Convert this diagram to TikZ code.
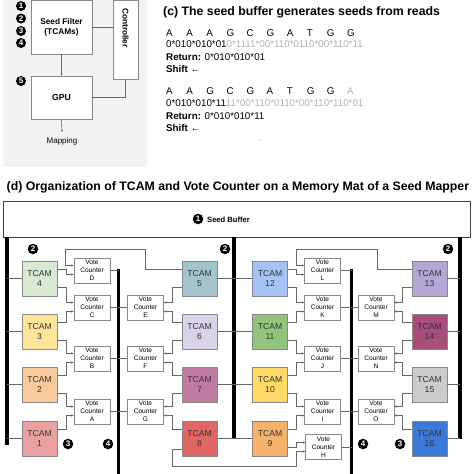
\documentclass[tikz,border=0pt]{standalone}
\usepackage{fontspec}
\setmainfont{Liberation Sans}
\usetikzlibrary{arrows.meta}
\definecolor{tc1}{HTML}{E9A0A0}
\definecolor{tc2}{HTML}{F8C99A}
\definecolor{tc3}{HTML}{FEE59A}
\definecolor{tc4}{HTML}{D9EAD3}
\definecolor{tc5}{HTML}{A3C4C9}
\definecolor{tc6}{HTML}{D9D2E9}
\definecolor{tc7}{HTML}{C27BA0}
\definecolor{tc8}{HTML}{E06666}
\definecolor{tc9}{HTML}{F6B26B}
\definecolor{tc10}{HTML}{FFD966}
\definecolor{tc11}{HTML}{93C47D}
\definecolor{tc12}{HTML}{A4C2F4}
\definecolor{tc13}{HTML}{B4A7D6}
\definecolor{tc14}{HTML}{A64D79}
\definecolor{tc15}{HTML}{CCCCCC}
\definecolor{tc16}{HTML}{3C78D8}
\definecolor{boxgray}{HTML}{888888}
\definecolor{wiregray}{HTML}{666666}
\definecolor{panelbg}{HTML}{F2F2F2}
\definecolor{lighttext}{HTML}{B0B0B0}
\newcommand{\sq}[1]{\makebox[20.1pt][l]{#1}}
\begin{document}
\begin{tikzpicture}[x=1pt,y=-1pt,
  tcam/.style={draw=boxgray, line width=0.6pt, minimum width=35pt, minimum height=35pt, inner sep=0pt, align=center, font=\fontsize{8.6}{10.2}\selectfont, text=black!80},
  vc/.style={draw=boxgray, line width=0.6pt, fill=white, minimum width=36pt, minimum height=25pt, inner sep=0pt, align=center, font=\fontsize{6.6}{7.9}\selectfont},
  wire/.style={draw=wiregray, line width=0.6pt},
  arr/.style={wire, -{Stealth[length=2.5pt,width=2.5pt]}},
  bar/.style={line width=3.5pt, draw=black},
  marker/.style={circle, fill=black, text=white, inner sep=0pt, minimum size=10.5pt, font=\bfseries\fontsize{8}{8}\selectfont},
  pbox/.style={draw=boxgray, line width=0.7pt, fill=white, inner sep=0pt, align=center, font=\bfseries\fontsize{8.3}{10}\selectfont},
  txt/.style={anchor=west, inner sep=0pt, font=\fontsize{9.8}{11}\selectfont},
  title/.style={anchor=west, inner sep=0pt, font=\bfseries\fontsize{12.3}{14}\selectfont}
]
\useasboundingbox (0,0) rectangle (474,474);

% ---------- top-left panel ----------
\fill[panelbg] (3,0) rectangle (147,167);
\node[pbox, minimum width=61pt, minimum height=54pt] (sf) at (61.5,27) {Seed Filter\\(TCAMs)};
\draw[boxgray!70!black, line width=1.5pt] (sf.north west) -- (sf.north east);
\node[pbox, minimum width=25pt, minimum height=79pt] (ctrl) at (125.5,39.5) {};
\node[inner sep=0pt, rotate=-90, font=\bfseries\fontsize{8.3}{10}\selectfont] (ctrltxt) at (125.5,28) {Controller};
\node[pbox, minimum width=61pt, minimum height=43pt, font=\bfseries\fontsize{8.7}{10}\selectfont] (gpu) at (61.5,97.5) {GPU};
\node[inner sep=0pt, font=\fontsize{8}{10}\selectfont] (map) at (62,141) {Mapping};
\coordinate (mapend) at (62,132);
\draw[arr, -{Stealth[length=2pt,width=2pt]}] (sf.south) -- (gpu.north);
\draw[arr, -{Stealth[length=2pt,width=2pt]}] (gpu.south) -- (mapend);
\draw[wire] (sf.east) -- (sf.east -| ctrl.west);
\draw[wire] (gpu.east) -| (ctrl.south);
\node[marker, minimum size=10pt] (m1a) at (21,6) {1};
\node[marker, minimum size=10pt] (m2a) at (21,18.5) {2};
\node[marker, minimum size=10pt] (m3a) at (21,31) {3};
\node[marker, minimum size=10pt] (m4a) at (21,43) {4};
\node[marker, minimum size=10pt] (m5a) at (21,81) {5};

% ---------- panel (c) ----------
\node[title] (ctitle) at (163,12) {(c) The seed buffer generates seeds from reads};
\node[txt] (s1) at (166,33) {\sq{A}\sq{A}\sq{A}\sq{G}\sq{C}\sq{G}\sq{A}\sq{T}\sq{G}G};
\node[txt] (b1) at (166,44.5) {0*010*010*01\textcolor{lighttext}{0*1111*00*110*0110*00*110*11}};
\node[txt] (r1) at (166,57) {\textbf{Return:} 0*010*010*01};
\node[txt] (h1) at (166,68.5) {\textbf{Shift ←}};
\node[txt] (s2) at (166,91) {\sq{A}\sq{A}\sq{G}\sq{C}\sq{G}\sq{A}\sq{T}\sq{G}\sq{G}\textcolor{lighttext}{A}};
\node[txt] (b2) at (166,103) {0*010*010*11\textcolor{lighttext}{11*00*110*0110*00*110*110*01}};
\node[txt] (r2) at (166,116) {\textbf{Return:} 0*010*010*11};
\node[txt] (h2) at (166,127.5) {\textbf{Shift ←}};
\node[inner sep=0pt, text=lighttext, font=\fontsize{6}{7}\selectfont] (dots) at (260,141) {...};

% ---------- panel (d) ----------
\node[title] (dtitle) at (6.5,187) {(d) Organization of TCAM and Vote Counter on a Memory Mat of a Seed Mapper};
\node[draw=black!75, line width=0.8pt, minimum width=467pt, minimum height=36pt, inner sep=0pt] (sb) at (236.5,219) {};
\node[marker] (m1) at (198,219) {1};
\node[anchor=west, inner sep=0pt, font=\bfseries\fontsize{7.6}{9}\selectfont] (sbt) at (207,220) {Seed Buffer};

% bars
\coordinate (lbT) at (7,237);   \coordinate (lbB) at (7,445);
\coordinate (cbT) at (118.5,269); \coordinate (cbB) at (118.5,474);
\coordinate (mbT) at (234,237); \coordinate (mbB) at (234,438.5);
\coordinate (dbT) at (351.5,269); \coordinate (dbB) at (351.5,474);
\coordinate (rbT) at (460,237); \coordinate (rbB) at (460,438.5);

% TCAMs
\node[tcam, fill=tc4] (t4) at (39.5,278.5) {TCAM\\4};
\node[tcam, fill=tc3] (t3) at (39.5,331.5) {TCAM\\3};
\node[tcam, fill=tc2] (t2) at (39.5,384.5) {TCAM\\2};
\node[tcam, fill=tc1] (t1) at (39.5,438.5) {TCAM\\1};
\node[tcam, fill=tc5] (t5) at (199.5,278.5) {TCAM\\5};
\node[tcam, fill=tc6] (t6) at (199.5,331.5) {TCAM\\6};
\node[tcam, fill=tc7] (t7) at (199.5,384.5) {TCAM\\7};
\node[tcam, fill=tc8] (t8) at (199.5,438.5) {TCAM\\8};
\node[tcam, fill=tc12] (t12) at (270,278.5) {TCAM\\12};
\node[tcam, fill=tc11] (t11) at (270,331.5) {TCAM\\11};
\node[tcam, fill=tc10] (t10) at (270,384.5) {TCAM\\10};
\node[tcam, fill=tc9] (t9) at (270,438.5) {TCAM\\9};
\node[tcam, fill=tc13] (t13) at (429.5,278.5) {TCAM\\13};
\node[tcam, fill=tc14] (t14) at (429.5,331.5) {TCAM\\14};
\node[tcam, fill=tc15] (t15) at (429.5,384.5) {TCAM\\15};
\node[tcam, fill=tc16] (t16) at (429.5,438.5) {TCAM\\16};

% vote counters
\node[vc] (vD) at (92,270.5) {Vote\\Counter\\D};
\node[vc] (vC) at (92,307.5) {Vote\\Counter\\C};
\node[vc] (vB) at (92,358.5) {Vote\\Counter\\B};
\node[vc] (vA) at (92,411.5) {Vote\\Counter\\A};
\node[vc] (vE) at (145.5,307.5) {Vote\\Counter\\E};
\node[vc] (vF) at (145.5,358.5) {Vote\\Counter\\F};
\node[vc] (vG) at (145.5,411.5) {Vote\\Counter\\G};
\node[vc] (vL) at (322.5,270.5) {Vote\\Counter\\L};
\node[vc] (vK) at (322.5,307.5) {Vote\\Counter\\K};
\node[vc] (vJ) at (322.5,358.5) {Vote\\Counter\\J};
\node[vc] (vI) at (322.5,411.5) {Vote\\Counter\\I};
\node[vc] (vH) at (323.5,447) {Vote\\Counter\\H};
\node[vc] (vM) at (376,307.5) {Vote\\Counter\\M};
\node[vc] (vN) at (376,358.5) {Vote\\Counter\\N};
\node[vc] (vO) at (376,411.5) {Vote\\Counter\\O};

% thick bars
\draw[bar] (lbT) -- (lbB);
\draw[bar] (cbT) -- (cbB);
\draw[bar] (mbT) -- (mbB);
\draw[bar] (dbT) -- (dbB);
\draw[bar] (rbT) -- (rbB);

% TCAM to bars
\foreach \t in {t1,t2,t3,t4} \draw[wire] (\t.west) -- (\t.west -| lbT);
\foreach \t in {t5,t6,t7,t8} \draw[wire] (\t.east) -- (\t.east -| mbT);
\foreach \t in {t9,t10,t11,t12} \draw[wire] (\t.west) -- (\t.west -| mbT);
\foreach \t in {t13,t14,t15,t16} \draw[wire] (\t.east) -- (\t.east -| rbT);

% vote counters to center bars
\foreach \v in {vD,vC,vB,vA} \draw[wire] (\v.east) -- (\v.east -| cbT);
\foreach \v in {vE,vF,vG} \draw[wire] (\v.west) -- (\v.west -| cbT);
\foreach \v in {vL,vK,vJ,vI,vH} \draw[wire] (\v.east) -- (\v.east -| dbT);
\foreach \v in {vM,vN,vO} \draw[wire] (\v.west) -- (\v.west -| dbT);

% left half, column 1
\draw[arr] ([yshift=9pt]t4.east) -- ++(8.5,0) |- ([yshift=-4pt]vD.west);
\draw[arr] ([yshift=-9pt]t4.east) -- ++(8.5,0) |- ([yshift=5pt]vC.west);
\draw[arr] ([yshift=9pt]t3.east) -- ++(8.5,0) |- ([yshift=-4pt]vC.west);
\draw[arr] ([yshift=-9pt]t3.east) -- ++(8.5,0) |- ([yshift=5pt]vB.west);
\draw[arr] ([yshift=9pt]t2.east) -- ++(8.5,0) |- ([yshift=-4pt]vB.west);
\draw[arr] ([yshift=-9pt]t2.east) -- ++(8.5,0) |- ([yshift=5pt]vA.west);
\draw[arr] ([yshift=9pt]t1.east) -- ++(8.5,0) |- ([yshift=-4pt]vA.west);
\draw[arr] ([yshift=9pt]t5.west) -- ++(-36.5,0) -- ++(0,-20.5) -- ++(-79.5,0) |- ([yshift=5pt]vD.west);

% left half, column 2
\draw[arr] ([yshift=-9pt]t5.west) -- ++(-9.5,0) |- ([yshift=5pt]vE.east);
\draw[arr] ([yshift=9pt]t6.west) -- ++(-9.5,0) |- ([yshift=-4pt]vE.east);
\draw[arr] ([yshift=-9pt]t6.west) -- ++(-9.5,0) |- ([yshift=5pt]vF.east);
\draw[arr] ([yshift=9pt]t7.west) -- ++(-9.5,0) |- ([yshift=-4pt]vF.east);
\draw[arr] ([yshift=-9pt]t7.west) -- ++(-9.5,0) |- ([yshift=5pt]vG.east);
\draw[arr] ([yshift=9pt]t8.west) -- ++(-9.5,0) |- ([yshift=-4pt]vG.east);
\draw[arr] ([yshift=-11pt]t8.west) -- ++(-9.5,0) -- ++(0,16.5) -- ++(124.5,0) |- ([yshift=-4.5pt]vH.west);

% right half, column 1
\draw[arr] ([yshift=9pt]t12.east) -- ++(8.5,0) |- ([yshift=-4pt]vL.west);
\draw[arr] ([yshift=-9pt]t12.east) -- ++(8.5,0) |- ([yshift=5pt]vK.west);
\draw[arr] ([yshift=9pt]t11.east) -- ++(8.5,0) |- ([yshift=-4pt]vK.west);
\draw[arr] ([yshift=-9pt]t11.east) -- ++(8.5,0) |- ([yshift=5pt]vJ.west);
\draw[arr] ([yshift=9pt]t10.east) -- ++(8.5,0) |- ([yshift=-4pt]vJ.west);
\draw[arr] ([yshift=-9pt]t10.east) -- ++(8.5,0) |- ([yshift=5pt]vI.west);
\draw[arr] ([yshift=9pt]t9.east) -- ++(8.5,0) |- ([yshift=-4pt]vI.west);
\draw[arr] ([yshift=-9pt]t9.east) -- ++(8.5,0) |- ([yshift=4.5pt]vH.west);
\draw[arr] ([yshift=9pt]t13.west) -- ++(-34.5,0) -- ++(0,-20.5) -- ++(-81,0) |- ([yshift=5pt]vL.west);

% right half, column 2
\draw[arr] ([yshift=-9pt]t13.west) -- ++(-9,0) |- ([yshift=5pt]vM.east);
\draw[arr] ([yshift=9pt]t14.west) -- ++(-9,0) |- ([yshift=-4pt]vM.east);
\draw[arr] ([yshift=-9pt]t14.west) -- ++(-9,0) |- ([yshift=5pt]vN.east);
\draw[arr] ([yshift=9pt]t15.west) -- ++(-9,0) |- ([yshift=-4pt]vN.east);
\draw[arr] ([yshift=-9pt]t15.west) -- ++(-9,0) |- ([yshift=5pt]vO.east);
\draw[arr] ([yshift=9pt]t16.west) -- ++(-9,0) |- ([yshift=-4pt]vO.east);

% markers
\node[marker] (m2l) at (33,249) {2};
\node[marker] (m2m) at (225,249) {2};
\node[marker] (m2r) at (448,249) {2};
\node[marker] (m3l) at (68,444) {3};
\node[marker] (m4l) at (108,444) {4};
\node[marker] (m4r) at (363,444) {4};
\node[marker] (m3r) at (400,444) {3};
\end{tikzpicture}
\end{document}
